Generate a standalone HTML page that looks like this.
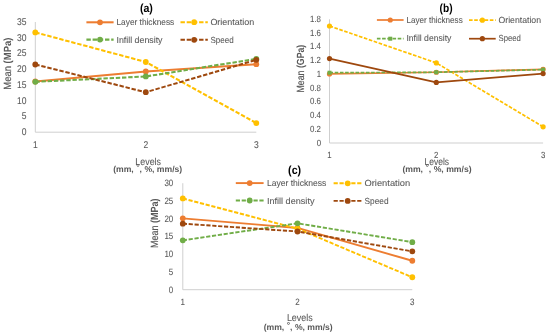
<!DOCTYPE html>
<html><head><meta charset="utf-8"><style>
html,body{margin:0;padding:0;background:#fff;overflow:hidden}
svg{display:block;filter:blur(0.35px);text-rendering:geometricPrecision;font-family:"Liberation Sans",sans-serif}
</style></head><body>
<svg width="550" height="336" viewBox="0 0 550 336">
<rect width="550" height="336" fill="#fff"/>
<line x1="35.3" y1="22" x2="35.3" y2="132.2" stroke="#CFCFCF" stroke-width="1"/>
<line x1="35.3" y1="132.2" x2="256.3" y2="132.2" stroke="#CFCFCF" stroke-width="1"/>
<text x="26.6" y="135.20" font-size="9.8" text-anchor="end" font-weight="normal" fill="#595959" stroke="#595959" stroke-width="0.08" textLength="4.75" lengthAdjust="spacingAndGlyphs">0</text>
<text x="26.6" y="119.46" font-size="9.8" text-anchor="end" font-weight="normal" fill="#595959" stroke="#595959" stroke-width="0.08" textLength="4.75" lengthAdjust="spacingAndGlyphs">5</text>
<text x="26.6" y="103.71" font-size="9.8" text-anchor="end" font-weight="normal" fill="#595959" stroke="#595959" stroke-width="0.08" textLength="9.5" lengthAdjust="spacingAndGlyphs">10</text>
<text x="26.6" y="87.97" font-size="9.8" text-anchor="end" font-weight="normal" fill="#595959" stroke="#595959" stroke-width="0.08" textLength="9.5" lengthAdjust="spacingAndGlyphs">15</text>
<text x="26.6" y="72.23" font-size="9.8" text-anchor="end" font-weight="normal" fill="#595959" stroke="#595959" stroke-width="0.08" textLength="9.5" lengthAdjust="spacingAndGlyphs">20</text>
<text x="26.6" y="56.49" font-size="9.8" text-anchor="end" font-weight="normal" fill="#595959" stroke="#595959" stroke-width="0.08" textLength="9.5" lengthAdjust="spacingAndGlyphs">25</text>
<text x="26.6" y="40.74" font-size="9.8" text-anchor="end" font-weight="normal" fill="#595959" stroke="#595959" stroke-width="0.08" textLength="9.5" lengthAdjust="spacingAndGlyphs">30</text>
<text x="26.6" y="25.00" font-size="9.8" text-anchor="end" font-weight="normal" fill="#595959" stroke="#595959" stroke-width="0.08" textLength="9.5" lengthAdjust="spacingAndGlyphs">35</text>
<text x="35.3" y="148.3" font-size="9.8" text-anchor="middle" font-weight="normal" fill="#595959" stroke="#595959" stroke-width="0.08" textLength="4.75" lengthAdjust="spacingAndGlyphs">1</text>
<text x="145.8" y="148.3" font-size="9.8" text-anchor="middle" font-weight="normal" fill="#595959" stroke="#595959" stroke-width="0.08" textLength="4.75" lengthAdjust="spacingAndGlyphs">2</text>
<text x="256.3" y="148.3" font-size="9.8" text-anchor="middle" font-weight="normal" fill="#595959" stroke="#595959" stroke-width="0.08" textLength="4.75" lengthAdjust="spacingAndGlyphs">3</text>
<polyline points="35.30,81.51 145.80,71.43 256.30,64.19" fill="none" stroke="#ED7D31" stroke-width="2.05" stroke-linejoin="round"/>
<circle cx="35.30" cy="81.51" r="2.9" fill="#ED7D31"/>
<circle cx="145.80" cy="71.43" r="2.9" fill="#ED7D31"/>
<circle cx="256.30" cy="64.19" r="2.9" fill="#ED7D31"/>
<polyline points="35.30,32.39 145.80,61.99 256.30,123.07" fill="none" stroke="#FFC000" stroke-width="2.05" stroke-dasharray="4.4 1.8" stroke-linejoin="round"/>
<circle cx="35.30" cy="32.39" r="2.9" fill="#FFC000"/>
<circle cx="145.80" cy="61.99" r="2.9" fill="#FFC000"/>
<circle cx="256.30" cy="123.07" r="2.9" fill="#FFC000"/>
<polyline points="35.30,81.82 145.80,76.47 256.30,58.84" fill="none" stroke="#70AD47" stroke-width="2.05" stroke-dasharray="4.4 1.8" stroke-linejoin="round"/>
<circle cx="35.30" cy="81.82" r="2.9" fill="#70AD47"/>
<circle cx="145.80" cy="76.47" r="2.9" fill="#70AD47"/>
<circle cx="256.30" cy="58.84" r="2.9" fill="#70AD47"/>
<polyline points="35.30,64.51 145.80,92.21 256.30,59.78" fill="none" stroke="#9E480E" stroke-width="2.05" stroke-dasharray="4.4 1.8" stroke-linejoin="round"/>
<circle cx="35.30" cy="64.51" r="2.9" fill="#9E480E"/>
<circle cx="145.80" cy="92.21" r="2.9" fill="#9E480E"/>
<circle cx="256.30" cy="59.78" r="2.9" fill="#9E480E"/>
<line x1="86.4" y1="22.3" x2="113.6" y2="22.3" stroke="#ED7D31" stroke-width="2.05"/>
<circle cx="100.00" cy="22.30" r="2.9" fill="#ED7D31"/>
<text x="116.5" y="25.1" font-size="8.8" text-anchor="start" font-weight="normal" fill="#595959" stroke="#595959" stroke-width="0.08" textLength="57.7" lengthAdjust="spacingAndGlyphs">Layer thickness</text>
<line x1="180.5" y1="22.2" x2="207.8" y2="22.2" stroke="#FFC000" stroke-width="2.05" stroke-dasharray="4.4 1.8"/>
<circle cx="194.15" cy="22.20" r="2.9" fill="#FFC000"/>
<text x="210.4" y="25.1" font-size="8.8" text-anchor="start" font-weight="normal" fill="#595959" stroke="#595959" stroke-width="0.08" textLength="43.8" lengthAdjust="spacingAndGlyphs">Orientation</text>
<line x1="86.4" y1="39.6" x2="113.6" y2="39.6" stroke="#70AD47" stroke-width="2.05" stroke-dasharray="4.4 1.8"/>
<circle cx="100.00" cy="39.60" r="2.9" fill="#70AD47"/>
<text x="116.5" y="42.6" font-size="8.8" text-anchor="start" font-weight="normal" fill="#595959" stroke="#595959" stroke-width="0.08" textLength="46" lengthAdjust="spacingAndGlyphs">Infill density</text>
<line x1="180.5" y1="39.8" x2="207.8" y2="39.8" stroke="#9E480E" stroke-width="2.05" stroke-dasharray="4.4 1.8"/>
<circle cx="194.15" cy="39.80" r="2.9" fill="#9E480E"/>
<text x="210.4" y="42.6" font-size="8.8" text-anchor="start" font-weight="normal" fill="#595959" stroke="#595959" stroke-width="0.08" textLength="23.2" lengthAdjust="spacingAndGlyphs">Speed</text>
<text x="146.4" y="12.4" font-size="11.8" text-anchor="middle" font-weight="bold" fill="#000" textLength="13" lengthAdjust="spacingAndGlyphs">(a)</text>
<text transform="translate(11.4,63.65) rotate(-90)" x="0" y="0" font-size="10.4" text-anchor="middle" fill="#595959" stroke="#595959" stroke-width="0.2" textLength="52.1" lengthAdjust="spacingAndGlyphs">Mean <tspan font-weight="bold" stroke-width="0">(MPa)</tspan></text>
<text x="148.2" y="164.7" font-size="10" text-anchor="middle" font-weight="normal" fill="#595959" stroke="#595959" stroke-width="0.08" textLength="25.7" lengthAdjust="spacingAndGlyphs">Levels</text>
<text x="147.7" y="171.8" font-size="8.6" text-anchor="middle" font-weight="bold" fill="#595959" textLength="69" lengthAdjust="spacingAndGlyphs">(mm, <tspan dy="-1.4">°</tspan><tspan dy="1.4">, %, mm/s)</tspan></text>
<line x1="329.5" y1="19.3" x2="329.5" y2="143" stroke="#CFCFCF" stroke-width="1"/>
<line x1="329.5" y1="143" x2="543.1" y2="143" stroke="#CFCFCF" stroke-width="1"/>
<text x="321" y="145.60" font-size="9.0" text-anchor="end" font-weight="normal" fill="#595959" stroke="#595959" stroke-width="0.08" textLength="4.36" lengthAdjust="spacingAndGlyphs">0</text>
<text x="321" y="131.86" font-size="9.0" text-anchor="end" font-weight="normal" fill="#595959" stroke="#595959" stroke-width="0.08" textLength="10.91" lengthAdjust="spacingAndGlyphs">0.2</text>
<text x="321" y="118.12" font-size="9.0" text-anchor="end" font-weight="normal" fill="#595959" stroke="#595959" stroke-width="0.08" textLength="10.91" lengthAdjust="spacingAndGlyphs">0.4</text>
<text x="321" y="104.38" font-size="9.0" text-anchor="end" font-weight="normal" fill="#595959" stroke="#595959" stroke-width="0.08" textLength="10.91" lengthAdjust="spacingAndGlyphs">0.6</text>
<text x="321" y="90.64" font-size="9.0" text-anchor="end" font-weight="normal" fill="#595959" stroke="#595959" stroke-width="0.08" textLength="10.91" lengthAdjust="spacingAndGlyphs">0.8</text>
<text x="321" y="76.90" font-size="9.0" text-anchor="end" font-weight="normal" fill="#595959" stroke="#595959" stroke-width="0.08" textLength="4.36" lengthAdjust="spacingAndGlyphs">1</text>
<text x="321" y="63.16" font-size="9.0" text-anchor="end" font-weight="normal" fill="#595959" stroke="#595959" stroke-width="0.08" textLength="10.91" lengthAdjust="spacingAndGlyphs">1.2</text>
<text x="321" y="49.42" font-size="9.0" text-anchor="end" font-weight="normal" fill="#595959" stroke="#595959" stroke-width="0.08" textLength="10.91" lengthAdjust="spacingAndGlyphs">1.4</text>
<text x="321" y="35.68" font-size="9.0" text-anchor="end" font-weight="normal" fill="#595959" stroke="#595959" stroke-width="0.08" textLength="10.91" lengthAdjust="spacingAndGlyphs">1.6</text>
<text x="321" y="21.94" font-size="9.0" text-anchor="end" font-weight="normal" fill="#595959" stroke="#595959" stroke-width="0.08" textLength="10.91" lengthAdjust="spacingAndGlyphs">1.8</text>
<text x="329.5" y="157.9" font-size="9.0" text-anchor="middle" font-weight="normal" fill="#595959" stroke="#595959" stroke-width="0.08" textLength="4.36" lengthAdjust="spacingAndGlyphs">1</text>
<text x="436.3" y="157.9" font-size="9.0" text-anchor="middle" font-weight="normal" fill="#595959" stroke="#595959" stroke-width="0.08" textLength="4.36" lengthAdjust="spacingAndGlyphs">2</text>
<text x="543.1" y="157.9" font-size="9.0" text-anchor="middle" font-weight="normal" fill="#595959" stroke="#595959" stroke-width="0.08" textLength="4.36" lengthAdjust="spacingAndGlyphs">3</text>
<polyline points="329.50,73.89 436.30,72.24 543.10,69.35" fill="none" stroke="#ED7D31" stroke-width="1.7" stroke-linejoin="round"/>
<circle cx="329.50" cy="73.89" r="2.6" fill="#ED7D31"/>
<circle cx="436.30" cy="72.24" r="2.6" fill="#ED7D31"/>
<circle cx="543.10" cy="69.35" r="2.6" fill="#ED7D31"/>
<polyline points="329.50,26.00 436.30,62.90 543.10,126.79" fill="none" stroke="#FFC000" stroke-width="1.7" stroke-dasharray="3.6 1.6" stroke-linejoin="round"/>
<circle cx="329.50" cy="26.00" r="2.6" fill="#FFC000"/>
<circle cx="436.30" cy="62.90" r="2.6" fill="#FFC000"/>
<circle cx="543.10" cy="126.79" r="2.6" fill="#FFC000"/>
<polyline points="329.50,72.72 436.30,72.24 543.10,69.63" fill="none" stroke="#70AD47" stroke-width="1.7" stroke-dasharray="3.6 1.6" stroke-linejoin="round"/>
<rect x="327.50" y="70.72" width="4.00" height="4.00" fill="#70AD47"/>
<rect x="434.30" y="70.24" width="4.00" height="4.00" fill="#70AD47"/>
<rect x="541.10" y="67.63" width="4.00" height="4.00" fill="#70AD47"/>
<polyline points="329.50,58.57 436.30,82.41 543.10,73.61" fill="none" stroke="#9E480E" stroke-width="1.7" stroke-linejoin="round"/>
<circle cx="329.50" cy="58.57" r="2.6" fill="#9E480E"/>
<circle cx="436.30" cy="82.41" r="2.6" fill="#9E480E"/>
<circle cx="543.10" cy="73.61" r="2.6" fill="#9E480E"/>
<line x1="376.9" y1="20.0" x2="403.6" y2="20.0" stroke="#ED7D31" stroke-width="1.7"/>
<circle cx="390.25" cy="20.00" r="2.6" fill="#ED7D31"/>
<text x="406.4" y="22.6" font-size="8.8" text-anchor="start" font-weight="normal" fill="#595959" stroke="#595959" stroke-width="0.08" textLength="56.3" lengthAdjust="spacingAndGlyphs">Layer thickness</text>
<line x1="469" y1="20.2" x2="495.7" y2="20.2" stroke="#FFC000" stroke-width="1.7" stroke-dasharray="3.6 1.6"/>
<circle cx="482.35" cy="20.20" r="2.6" fill="#FFC000"/>
<text x="498.5" y="22.6" font-size="8.8" text-anchor="start" font-weight="normal" fill="#595959" stroke="#595959" stroke-width="0.08" textLength="42.5" lengthAdjust="spacingAndGlyphs">Orientation</text>
<line x1="376.9" y1="38.7" x2="403.6" y2="38.7" stroke="#70AD47" stroke-width="1.7" stroke-dasharray="3.6 1.6"/>
<rect x="388.25" y="36.70" width="4.00" height="4.00" fill="#70AD47"/>
<text x="406.4" y="41.2" font-size="8.8" text-anchor="start" font-weight="normal" fill="#595959" stroke="#595959" stroke-width="0.08" textLength="45" lengthAdjust="spacingAndGlyphs">Infill density</text>
<line x1="469" y1="38.7" x2="495.7" y2="38.7" stroke="#9E480E" stroke-width="1.7"/>
<circle cx="482.35" cy="38.70" r="2.6" fill="#9E480E"/>
<text x="498.5" y="41.2" font-size="8.8" text-anchor="start" font-weight="normal" fill="#595959" stroke="#595959" stroke-width="0.08" textLength="22.4" lengthAdjust="spacingAndGlyphs">Speed</text>
<text x="446.1" y="12.4" font-size="11.8" text-anchor="middle" font-weight="bold" fill="#000" textLength="13" lengthAdjust="spacingAndGlyphs">(b)</text>
<text transform="translate(303.6,68.6) rotate(-90)" x="0" y="0" font-size="10.4" text-anchor="middle" fill="#595959" stroke="#595959" stroke-width="0.2" textLength="47.8" lengthAdjust="spacingAndGlyphs">Mean <tspan font-weight="bold" stroke-width="0">(GPa)</tspan></text>
<text x="436.8" y="164.8" font-size="10" text-anchor="middle" font-weight="normal" fill="#595959" stroke="#595959" stroke-width="0.08" textLength="24.5" lengthAdjust="spacingAndGlyphs">Levels</text>
<text x="437" y="171.7" font-size="8.6" text-anchor="middle" font-weight="bold" fill="#595959" textLength="69.2" lengthAdjust="spacingAndGlyphs">(mm, <tspan dy="-1.4">°</tspan><tspan dy="1.4">, %, mm/s)</tspan></text>
<line x1="182.8" y1="183.2" x2="182.8" y2="289.7" stroke="#CFCFCF" stroke-width="1"/>
<line x1="182.8" y1="289.7" x2="412.3" y2="289.7" stroke="#CFCFCF" stroke-width="1"/>
<text x="173.3" y="292.70" font-size="9.2" text-anchor="end" font-weight="normal" fill="#595959" stroke="#595959" stroke-width="0.08" textLength="4.46" lengthAdjust="spacingAndGlyphs">0</text>
<text x="173.3" y="274.95" font-size="9.2" text-anchor="end" font-weight="normal" fill="#595959" stroke="#595959" stroke-width="0.08" textLength="4.46" lengthAdjust="spacingAndGlyphs">5</text>
<text x="173.3" y="257.20" font-size="9.2" text-anchor="end" font-weight="normal" fill="#595959" stroke="#595959" stroke-width="0.08" textLength="8.92" lengthAdjust="spacingAndGlyphs">10</text>
<text x="173.3" y="239.45" font-size="9.2" text-anchor="end" font-weight="normal" fill="#595959" stroke="#595959" stroke-width="0.08" textLength="8.92" lengthAdjust="spacingAndGlyphs">15</text>
<text x="173.3" y="221.70" font-size="9.2" text-anchor="end" font-weight="normal" fill="#595959" stroke="#595959" stroke-width="0.08" textLength="8.92" lengthAdjust="spacingAndGlyphs">20</text>
<text x="173.3" y="203.95" font-size="9.2" text-anchor="end" font-weight="normal" fill="#595959" stroke="#595959" stroke-width="0.08" textLength="8.92" lengthAdjust="spacingAndGlyphs">25</text>
<text x="173.3" y="186.20" font-size="9.2" text-anchor="end" font-weight="normal" fill="#595959" stroke="#595959" stroke-width="0.08" textLength="8.92" lengthAdjust="spacingAndGlyphs">30</text>
<text x="182.8" y="305.4" font-size="9.2" text-anchor="middle" font-weight="normal" fill="#595959" stroke="#595959" stroke-width="0.08" textLength="4.46" lengthAdjust="spacingAndGlyphs">1</text>
<text x="297.5" y="305.4" font-size="9.2" text-anchor="middle" font-weight="normal" fill="#595959" stroke="#595959" stroke-width="0.08" textLength="4.46" lengthAdjust="spacingAndGlyphs">2</text>
<text x="412.3" y="305.4" font-size="9.2" text-anchor="middle" font-weight="normal" fill="#595959" stroke="#595959" stroke-width="0.08" textLength="4.46" lengthAdjust="spacingAndGlyphs">3</text>
<polyline points="182.80,218.34 297.50,227.93 412.30,260.77" fill="none" stroke="#ED7D31" stroke-width="1.9" stroke-linejoin="round"/>
<circle cx="182.80" cy="218.34" r="2.9" fill="#ED7D31"/>
<circle cx="297.50" cy="227.93" r="2.9" fill="#ED7D31"/>
<circle cx="412.30" cy="260.77" r="2.9" fill="#ED7D31"/>
<polyline points="182.80,198.46 297.50,228.64 412.30,277.27" fill="none" stroke="#FFC000" stroke-width="1.9" stroke-dasharray="4.2 1.7" stroke-linejoin="round"/>
<circle cx="182.80" cy="198.46" r="2.9" fill="#FFC000"/>
<circle cx="297.50" cy="228.64" r="2.9" fill="#FFC000"/>
<circle cx="412.30" cy="277.27" r="2.9" fill="#FFC000"/>
<polyline points="182.80,240.35 297.50,223.31 412.30,242.13" fill="none" stroke="#70AD47" stroke-width="1.9" stroke-dasharray="4.2 1.7" stroke-linejoin="round"/>
<circle cx="182.80" cy="240.35" r="2.9" fill="#70AD47"/>
<circle cx="297.50" cy="223.31" r="2.9" fill="#70AD47"/>
<circle cx="412.30" cy="242.13" r="2.9" fill="#70AD47"/>
<polyline points="182.80,223.67 297.50,231.48 412.30,251.36" fill="none" stroke="#9E480E" stroke-width="1.9" stroke-dasharray="4.2 1.7" stroke-linejoin="round"/>
<circle cx="182.80" cy="223.67" r="2.9" fill="#9E480E"/>
<circle cx="297.50" cy="231.48" r="2.9" fill="#9E480E"/>
<circle cx="412.30" cy="251.36" r="2.9" fill="#9E480E"/>
<line x1="235.8" y1="183.1" x2="263.6" y2="183.1" stroke="#ED7D31" stroke-width="1.9"/>
<circle cx="249.70" cy="183.10" r="2.9" fill="#ED7D31"/>
<text x="266.9" y="186.1" font-size="8.8" text-anchor="start" font-weight="normal" fill="#595959" stroke="#595959" stroke-width="0.08" textLength="59.5" lengthAdjust="spacingAndGlyphs">Layer thickness</text>
<line x1="333.6" y1="183.3" x2="361.8" y2="183.3" stroke="#FFC000" stroke-width="1.9" stroke-dasharray="4.2 1.7"/>
<circle cx="347.70" cy="183.30" r="2.9" fill="#FFC000"/>
<text x="364.5" y="186.1" font-size="8.8" text-anchor="start" font-weight="normal" fill="#595959" stroke="#595959" stroke-width="0.08" textLength="45.6" lengthAdjust="spacingAndGlyphs">Orientation</text>
<line x1="235.8" y1="200.5" x2="263.6" y2="200.5" stroke="#70AD47" stroke-width="1.9" stroke-dasharray="4.2 1.7"/>
<circle cx="249.70" cy="200.50" r="2.9" fill="#70AD47"/>
<text x="266.9" y="203.5" font-size="8.8" text-anchor="start" font-weight="normal" fill="#595959" stroke="#595959" stroke-width="0.08" textLength="47.6" lengthAdjust="spacingAndGlyphs">Infill density</text>
<line x1="333.6" y1="200.9" x2="361.8" y2="200.9" stroke="#9E480E" stroke-width="1.9" stroke-dasharray="4.2 1.7"/>
<circle cx="347.70" cy="200.90" r="2.9" fill="#9E480E"/>
<text x="364.5" y="203.5" font-size="8.8" text-anchor="start" font-weight="normal" fill="#595959" stroke="#595959" stroke-width="0.08" textLength="24" lengthAdjust="spacingAndGlyphs">Speed</text>
<text x="294.6" y="174.1" font-size="11.8" text-anchor="middle" font-weight="bold" fill="#000" textLength="13" lengthAdjust="spacingAndGlyphs">(c)</text>
<text transform="translate(157.9,223.2) rotate(-90)" x="0" y="0" font-size="10.4" text-anchor="middle" fill="#595959" stroke="#595959" stroke-width="0.2" textLength="49.6" lengthAdjust="spacingAndGlyphs">Mean <tspan font-weight="bold" stroke-width="0">(MPa)</tspan></text>
<text x="299.8" y="320.6" font-size="10" text-anchor="middle" font-weight="normal" fill="#595959" stroke="#595959" stroke-width="0.08" textLength="25.8" lengthAdjust="spacingAndGlyphs">Levels</text>
<text x="298.2" y="329.8" font-size="8.6" text-anchor="middle" font-weight="bold" fill="#595959" textLength="69.1" lengthAdjust="spacingAndGlyphs">(mm, <tspan dy="-1.4">°</tspan><tspan dy="1.4">, %, mm/s)</tspan></text>
</svg>
</body></html>
